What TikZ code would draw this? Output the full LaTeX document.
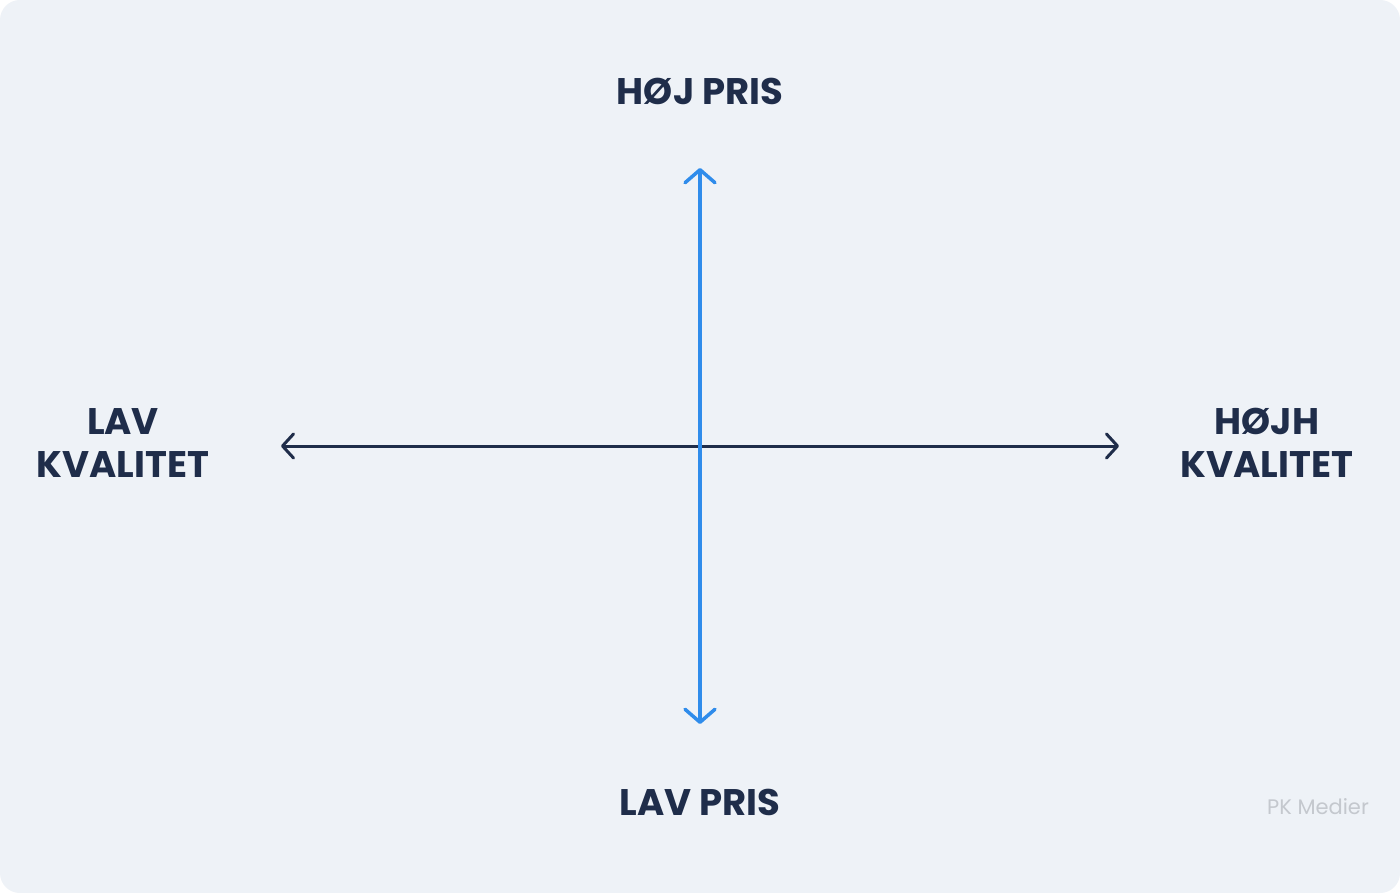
\documentclass[tikz,border=0pt]{standalone}
\usepackage{fontspec}
\setmainfont{Poppins}
\usetikzlibrary{arrows.meta}
\definecolor{bgpanel}{HTML}{EEF2F7}
\definecolor{navy}{HTML}{1F2D4A}
\definecolor{axisblue}{HTML}{2F8CEB}
\definecolor{markgray}{HTML}{C4C8CE}
\tikzset{
  axislabel/.style={text=navy, font=\fontsize{37}{43}\selectfont\bfseries, align=center, inner sep=0pt},
  pricearrow/.style={draw=axisblue, line width=4pt, line cap=round,
    {Straight Barb[length=13pt, width=30pt, line width=3.5pt, round]}-{Straight Barb[length=13pt, width=30pt, line width=3.5pt, round]}},
  qualarrow/.style={draw=navy, line width=3pt, line cap=round,
    {Straight Barb[length=11pt, width=24pt, line width=3pt, round]}-{Straight Barb[length=11pt, width=24pt, line width=3pt, round]}}
}
\begin{document}
\begin{tikzpicture}[x=1pt, y=-1pt]
    \useasboundingbox (0,0) rectangle (1400,893);
    \fill[white] (0,0) rectangle (1400,893);
    \fill[bgpanel, rounded corners=20pt] (0,0) rectangle (1400,893);

    % Axis ends
    \coordinate (top) at (700,168);
    \coordinate (bottom) at (700,724);
    \coordinate (left) at (281,446);
    \coordinate (right) at (1119,446);

    % Arrows
    \draw[qualarrow] (left) -- (right);
    \draw[pricearrow] (bottom) -- (top);

    % Labels
    \node[axislabel] (highprice) at (700,91) {HØJ PRIS};
    \node[axislabel] (lowprice) at (700,802) {LAV PRIS};
    \node[axislabel] (lowqual) at (123,443) {LAV\\KVALITET};
    \node[axislabel] (highqual) at (1267,443) {HØJH\\KVALITET};

    % Watermark
    \node[text=markgray, font=\fontsize{21}{24}\selectfont, inner sep=0pt] (brand) at (1318,807) {PK Medier};
\end{tikzpicture}
\end{document}
